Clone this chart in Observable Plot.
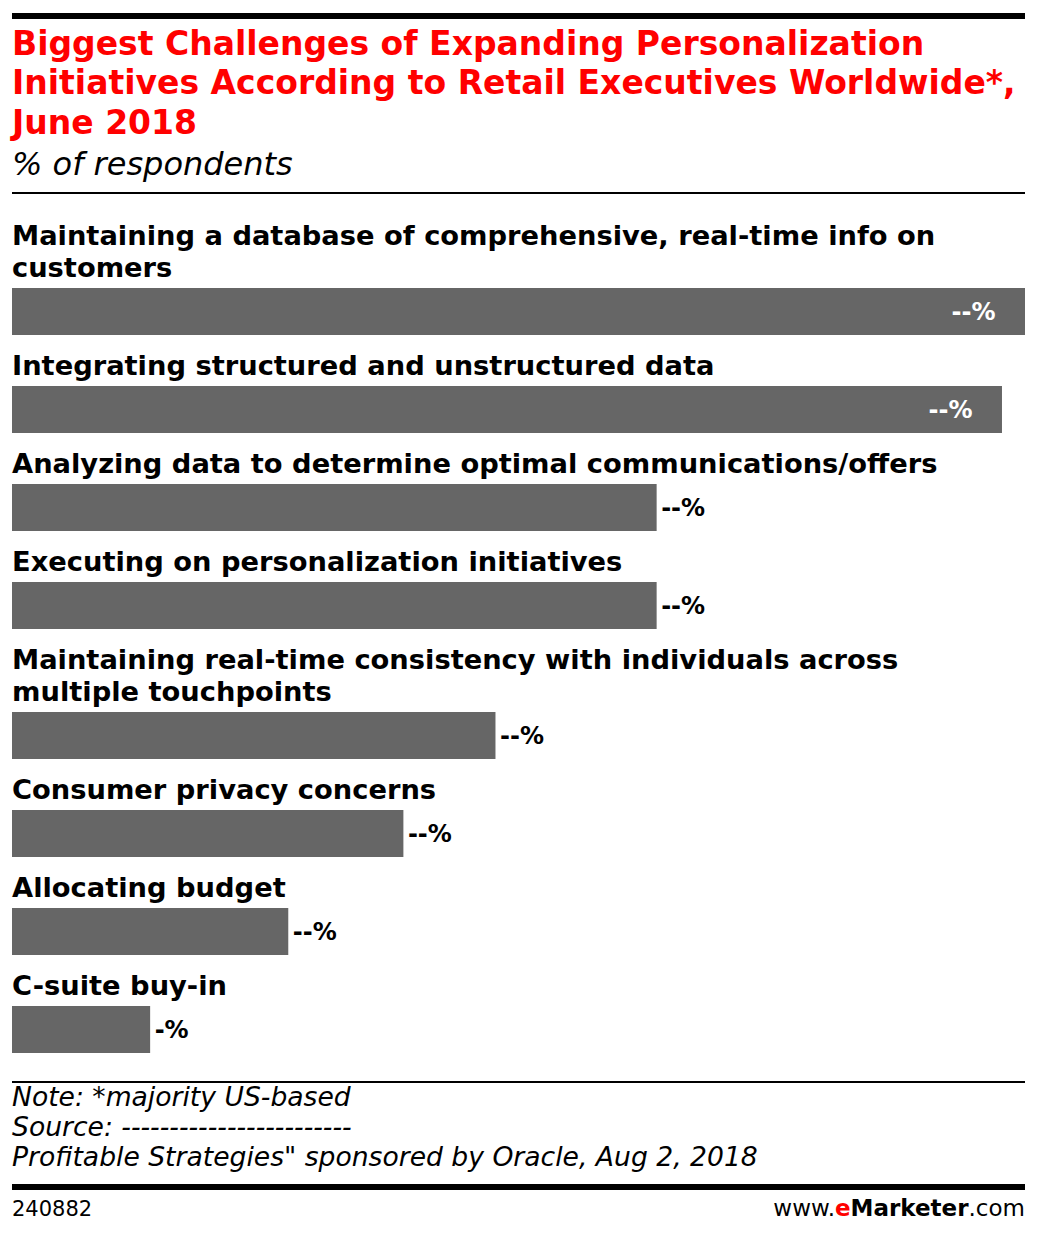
<!DOCTYPE html>
<html><head><meta charset="utf-8">
<script src="https://cdn.jsdelivr.net/npm/d3@7"></script>
<script src="https://cdn.jsdelivr.net/npm/@observablehq/plot@0.6"></script>
<style>
body{margin:0;background:#fff;}
#page{position:relative;width:1038px;height:1236px;overflow:hidden;font-family:"DejaVu Sans",sans-serif;}
.rule{position:absolute;left:12px;width:1013px;background:#000;}
#title{position:absolute;left:12px;top:23.8px;color:#ff0000;font-weight:bold;font-size:33px;line-height:39.5px;white-space:pre;}
#subtitle{position:absolute;left:12px;top:146.4px;font-style:italic;font-size:32px;line-height:36px;color:#000;}
#rows{position:absolute;left:0;top:220.3px;width:1038px;}
.label{margin-left:12px;font-weight:bold;font-size:27.3px;line-height:32px;white-space:pre;color:#000;}
.bar{margin-top:4px;margin-bottom:15px;height:47px;}
.bar svg{display:block;}
#notes{position:absolute;left:12px;top:1082px;font-style:italic;font-size:26.6px;line-height:30px;white-space:pre;color:#000;}
#chartid{position:absolute;left:12px;top:1196.5px;font-size:21px;line-height:24px;color:#000;}
#brand{position:absolute;right:13px;top:1196px;font-size:23px;line-height:24px;color:#000;}
</style></head>
<body>
<div id="page">
  <div class="rule" style="top:13px;height:6px;"></div>
  <div id="title"></div>
  <div id="subtitle"></div>
  <div class="rule" style="top:192px;height:2px;"></div>
  <div id="rows"></div>
  <div class="rule" style="top:1081px;height:2px;"></div>
  <div id="notes"></div>
  <div class="rule" style="top:1184px;height:6px;"></div>
  <div id="chartid"></div>
  <div id="brand">www.<b><span style="color:#ff0000">e</span>Marketer</b>.com</div>
</div>
<script>
const titleText = "Biggest Challenges of Expanding Personalization\nInitiatives According to Retail Executives Worldwide*,\nJune 2018";
const subtitleText = "% of respondents";
const categories = [
  "Maintaining a database of comprehensive, real-time info on\ncustomers",
  "Integrating structured and unstructured data",
  "Analyzing data to determine optimal communications/offers",
  "Executing on personalization initiatives",
  "Maintaining real-time consistency with individuals across\nmultiple touchpoints",
  "Consumer privacy concerns",
  "Allocating budget",
  "C-suite buy-in"
];
const values = [44, 43, 28, 28, 21, 17, 12, 6];
const valueLabels = ["--%", "--%", "--%", "--%", "--%", "--%", "--%", "-%"];
const notesText = "Note: *majority US-based\nSource: ------------------------\nProfitable Strategies\" sponsored by Oracle, Aug 2, 2018";
const chartId = "240882";

document.getElementById("title").textContent = titleText;
document.getElementById("subtitle").textContent = subtitleText;
document.getElementById("notes").textContent = notesText;
document.getElementById("chartid").textContent = chartId;

const data = categories.map((c, i) => ({category: c, value: values[i], label: valueLabels[i], inside: values[i] >= 40}));
const xMax = d3.max(values);
const rows = document.getElementById("rows");

data.forEach(d => {
  const lab = document.createElement("div");
  lab.className = "label";
  lab.textContent = d.category;
  rows.appendChild(lab);
  const holder = document.createElement("div");
  holder.className = "bar";
  const chart = Plot.plot({
    width: 1038,
    height: 47,
    marginLeft: 12,
    marginRight: 13,
    marginTop: 0,
    marginBottom: 0,
    style: {fontFamily: "'DejaVu Sans', sans-serif", background: "transparent", overflow: "visible"},
    x: {domain: [0, xMax], axis: null},
    y: {domain: [d.category], axis: null, padding: 0},
    marks: [
      Plot.barX([d], {x: "value", y: "category", fill: "#666666"}),
      Plot.text([d], {
        x: "value", y: "category", text: "label",
        textAnchor: d.inside ? "end" : "start",
        dx: d.inside ? -30 : 4,
        fill: d.inside ? "#ffffff" : "#000000",
        fontSize: 24, fontWeight: "bold"
      })
    ]
  });
  holder.appendChild(chart);
  rows.appendChild(holder);
});
</script>
</body></html>
